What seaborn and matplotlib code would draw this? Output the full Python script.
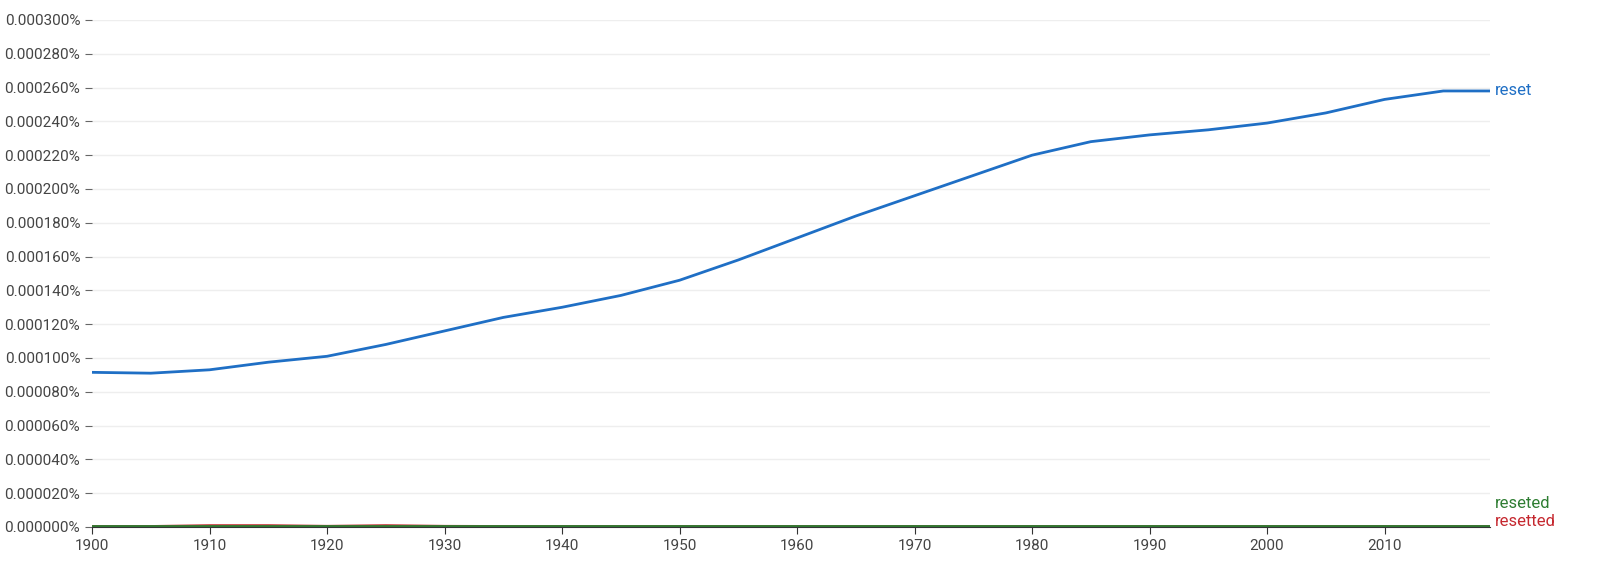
import matplotlib
matplotlib.use("Agg")
import matplotlib.pyplot as plt
import seaborn as sns
import pandas as pd

years = [1900,1905,1910,1915,1920,1925,1930,1935,1940,1945,1950,1955,1960,1965,1970,1975,1980,1985,1990,1995,2000,2005,2010,2015,2019]
reset = [0.0000915,0.0000910,0.0000930,0.0000975,0.0001010,0.0001080,0.0001160,0.0001240,0.0001300,0.0001370,0.0001460,0.0001580,0.0001710,0.0001840,0.0001960,0.0002080,0.0002200,0.0002280,0.0002320,0.0002350,0.0002390,0.0002450,0.0002530,0.0002580,0.0002580]
reseted = [0.0000005]*len(years)
resetted = [0.0000003,0.0000003,0.0000008,0.0000008,0.0000004,0.0000008,0.0000004,0.0000003,0.0000003,0.0000003,0.0000003,0.0000003,0.0000003,0.0000003,0.0000003,0.0000003,0.0000003,0.0000003,0.0000003,0.0000003,0.0000003,0.0000003,0.0000003,0.0000003,0.0000003]
names = ["reset", "resetted", "reseted"]
colors = {"reset": "#1f6fc5", "resetted": "#c5282f", "reseted": "#2e7d32"}

rows = []
for n, vals in zip(names, [reset, resetted, reseted]):
    for y, v in zip(years, vals):
        rows.append({"year": y, "value": v, "word": n})
df = pd.DataFrame(rows)

sns.set_style("white")
plt.rcParams['font.family'] = ['Roboto', 'DejaVu Sans']
fig = plt.figure(figsize=(15.98, 5.63), dpi=100)
ax = fig.add_axes([0.0576, 0.064, 0.875, 0.9005])
sns.lineplot(data=df, x="year", y="value", hue="word", palette=colors, ax=ax, legend=False, linewidth=2)
ax.set_xlim(1900, 2019)
ax.set_ylim(0, 0.0003)
ax.set_yticks([i * 0.00002 for i in range(16)])
ax.set_yticklabels([f"{i*0.00002:.6f}%" for i in range(16)], fontsize=11, color="#444")
ax.set_xticks(list(range(1900, 2011, 10)))
ax.set_xticklabels([str(x) for x in range(1900, 2011, 10)], fontsize=11, color="#444")
ax.set_xlabel(""); ax.set_ylabel("")
ax.grid(axis="y", color="#eeeeee", linewidth=1)
for s in ["top", "right", "left"]:
    ax.spines[s].set_visible(False)
ax.spines["bottom"].set_color("#333")
ax.tick_params(axis="y", which="both", direction="out", left=True, length=5, color="#666")
ax.tick_params(axis="x", length=5, color="#333", bottom=True)
ax.text(1.003, reset[-1], "reset", transform=ax.get_yaxis_transform(), color=colors["reset"], fontsize=12, va="center")
ax.text(1.003, 0.0000137, "reseted", transform=ax.get_yaxis_transform(), color=colors["reseted"], fontsize=12, va="center")
ax.text(1.003, 0.0000030, "resetted", transform=ax.get_yaxis_transform(), color=colors["resetted"], fontsize=12, va="center")
fig.savefig("out.png", dpi=100)
